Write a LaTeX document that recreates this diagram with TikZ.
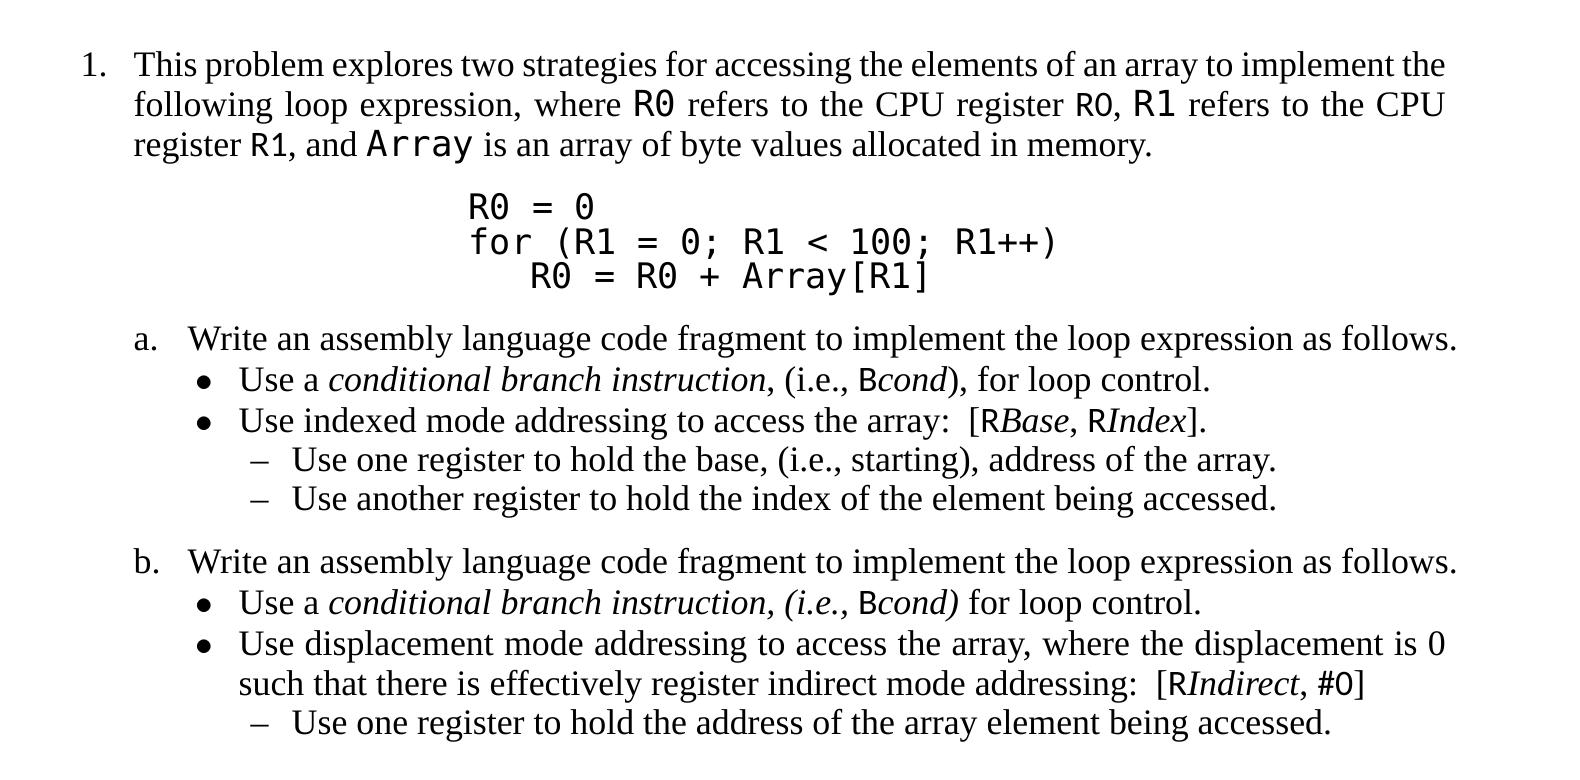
\documentclass[tikz,border=0pt]{standalone}
\usepackage{fontspec}
\setmainfont{Liberation Serif}
\setsansfont{Carlito}
\setmonofont{DejaVu Sans Mono}
\usetikzlibrary{positioning}
\newcommand\rs[1]{{\sffamily\upshape #1}}
\newcommand\jline[2]{\hbox to #1{#2}}
\tikzset{
   txt/.style={anchor=base west, inner sep=0pt, font=\fontsize{10.2}{12}\selectfont},
   code/.style={anchor=base west, inner sep=0pt, font=\fontsize{10}{12}\ttfamily},
   }
\begin{document}
\begin{tikzpicture}
            \useasboundingbox (0,-7.8) rectangle (15.8,0);
            % problem statement
            \node[txt] (num) at (0.80,-0.77) {1.};
            \node[txt] (l1) at (1.33,-0.77) {\jline{13.12cm}{This problem explores two strategies for accessing the elements of an array to implement the}};
            \node[txt] (l2) at (1.33,-1.17) {\jline{13.12cm}{following loop expression, where \texttt{R0} refers to the CPU register \rs{R0}, \texttt{R1} refers to the CPU}};
            \node[txt] (l3) at (1.33,-1.57) {register \rs{R1}, and \texttt{Array} is an array of byte values allocated in memory.};
            % loop
            \node[code] (c1) at (4.68,-2.20) {R0 = 0};
            \node[code] (c2) at (4.68,-2.55) {for (R1 = 0; R1 < 100; R1++)};
            \node[code] (c3) at (5.30,-2.89) {R0 = R0 + Array[R1]};
            % part a
            \node[txt] (pa) at (1.33,-3.50) {a.};
            \node[txt] (a1) at (1.87,-3.50) {Write an assembly language code fragment to implement the loop expression as follows.};
            \node[txt] (ba1) at (1.95,-3.91) {$\bullet$};
            \node[txt] (a2) at (2.38,-3.91) {Use a \textit{conditional branch instruction}, (i.e., \rs{B}\textit{cond}), for loop control.};
            \node[txt] (ba2) at (1.95,-4.32) {$\bullet$};
            \node[txt] (a3) at (2.38,-4.32) {Use indexed mode addressing to access the array:\ \ [\rs{R}\textit{Base}, \rs{R}\textit{Index}].};
            \node[txt] (da1) at (2.50,-4.71) {--};
            \node[txt] (a4) at (2.91,-4.71) {Use one register to hold the base, (i.e., starting), address of the array.};
            \node[txt] (da2) at (2.50,-5.10) {--};
            \node[txt] (a5) at (2.91,-5.10) {Use another register to hold the index of the element being accessed.};
            % part b
            \node[txt] (pb) at (1.33,-5.73) {b.};
            \node[txt] (b1) at (1.87,-5.73) {Write an assembly language code fragment to implement the loop expression as follows.};
            \node[txt] (bb1) at (1.95,-6.14) {$\bullet$};
            \node[txt] (b2) at (2.38,-6.14) {Use a \textit{conditional branch instruction, (i.e.,} \rs{B}\textit{cond)} for loop control.};
            \node[txt] (bb2) at (1.95,-6.55) {$\bullet$};
            \node[txt] (b3) at (2.38,-6.55) {\jline{12.07cm}{Use displacement mode addressing to access the array, where the displacement is 0}};
            \node[txt] (b4) at (2.38,-6.95) {such that there is effectively register indirect mode addressing:\ \ [\rs{R}\textit{Indirect}, \rs{\#0}]};
            \node[txt] (db1) at (2.50,-7.34) {--};
            \node[txt] (b5) at (2.91,-7.34) {Use one register to hold the address of the array element being accessed.};
\end{tikzpicture}
\end{document}
